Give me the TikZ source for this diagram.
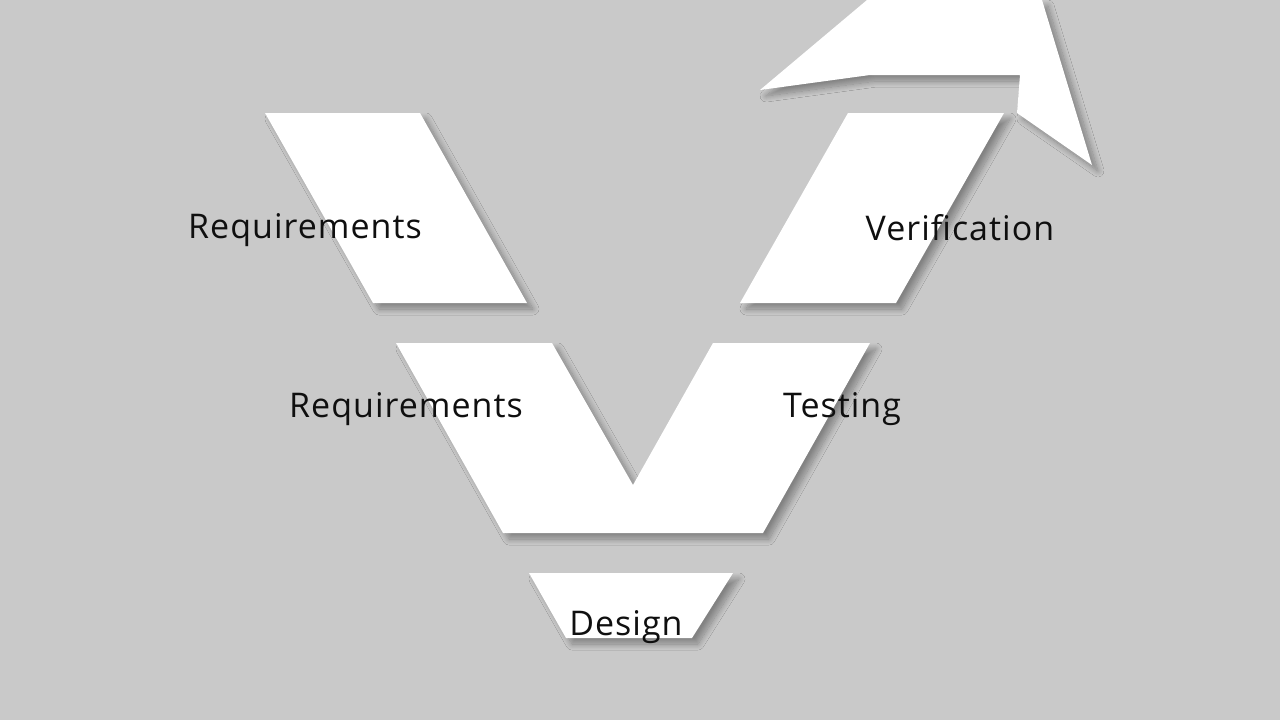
\documentclass[tikz,border=0pt]{standalone}
\usepackage{fontspec}
\setmainfont{Open Sans}[LetterSpace=3]
\usetikzlibrary{shadows.blur}
\definecolor{bg}{RGB}{201,201,201}
\definecolor{txt}{RGB}{15,15,15}
\tikzset{
  panel/.style={fill=white, draw=none,
    blur shadow={shadow xshift=6pt, shadow yshift=-6pt, shadow blur radius=6pt, shadow blur steps=12, shadow opacity=35}},
  lbl/.style={anchor=base, text=txt, font=\fontsize{34}{38}\selectfont, inner sep=0pt}
}
\begin{document}
\begin{tikzpicture}[x=1pt,y=-1pt]
\fill[bg] (0,0) rectangle (1280,720);
\useasboundingbox (0,0) rectangle (1280,720);
% arrow at top
\path[panel] (760,90) -- (870,75) -- (1020,75) -- (1017,113) -- (1092,165) -- (1042,0) -- (867,0) -- cycle;
% top left parallelogram
\path[panel] (265,113) -- (420,113) -- (527,303) -- (373,303) -- cycle;
% top right parallelogram
\path[panel] (848,113) -- (1004,113) -- (896,303) -- (740,303) -- cycle;
% V shape
\path[panel] (396,343) -- (552,343) -- (633,485) -- (713,343) -- (870,343) -- (763,533) -- (503,533) -- cycle;
% design trapezoid
\path[panel] (529,573) -- (733,573) -- (692,638) -- (566,638) -- cycle;
% labels
\node[lbl] (req1) at (305,238) {Requirements};
\node[lbl] (req2) at (406,417) {Requirements};
\node[lbl] (ver) at (960,240) {Verification};
\node[lbl] (test) at (842,417) {Testing};
\node[lbl] (des) at (626,635) {Design};
\end{tikzpicture}
\end{document}
